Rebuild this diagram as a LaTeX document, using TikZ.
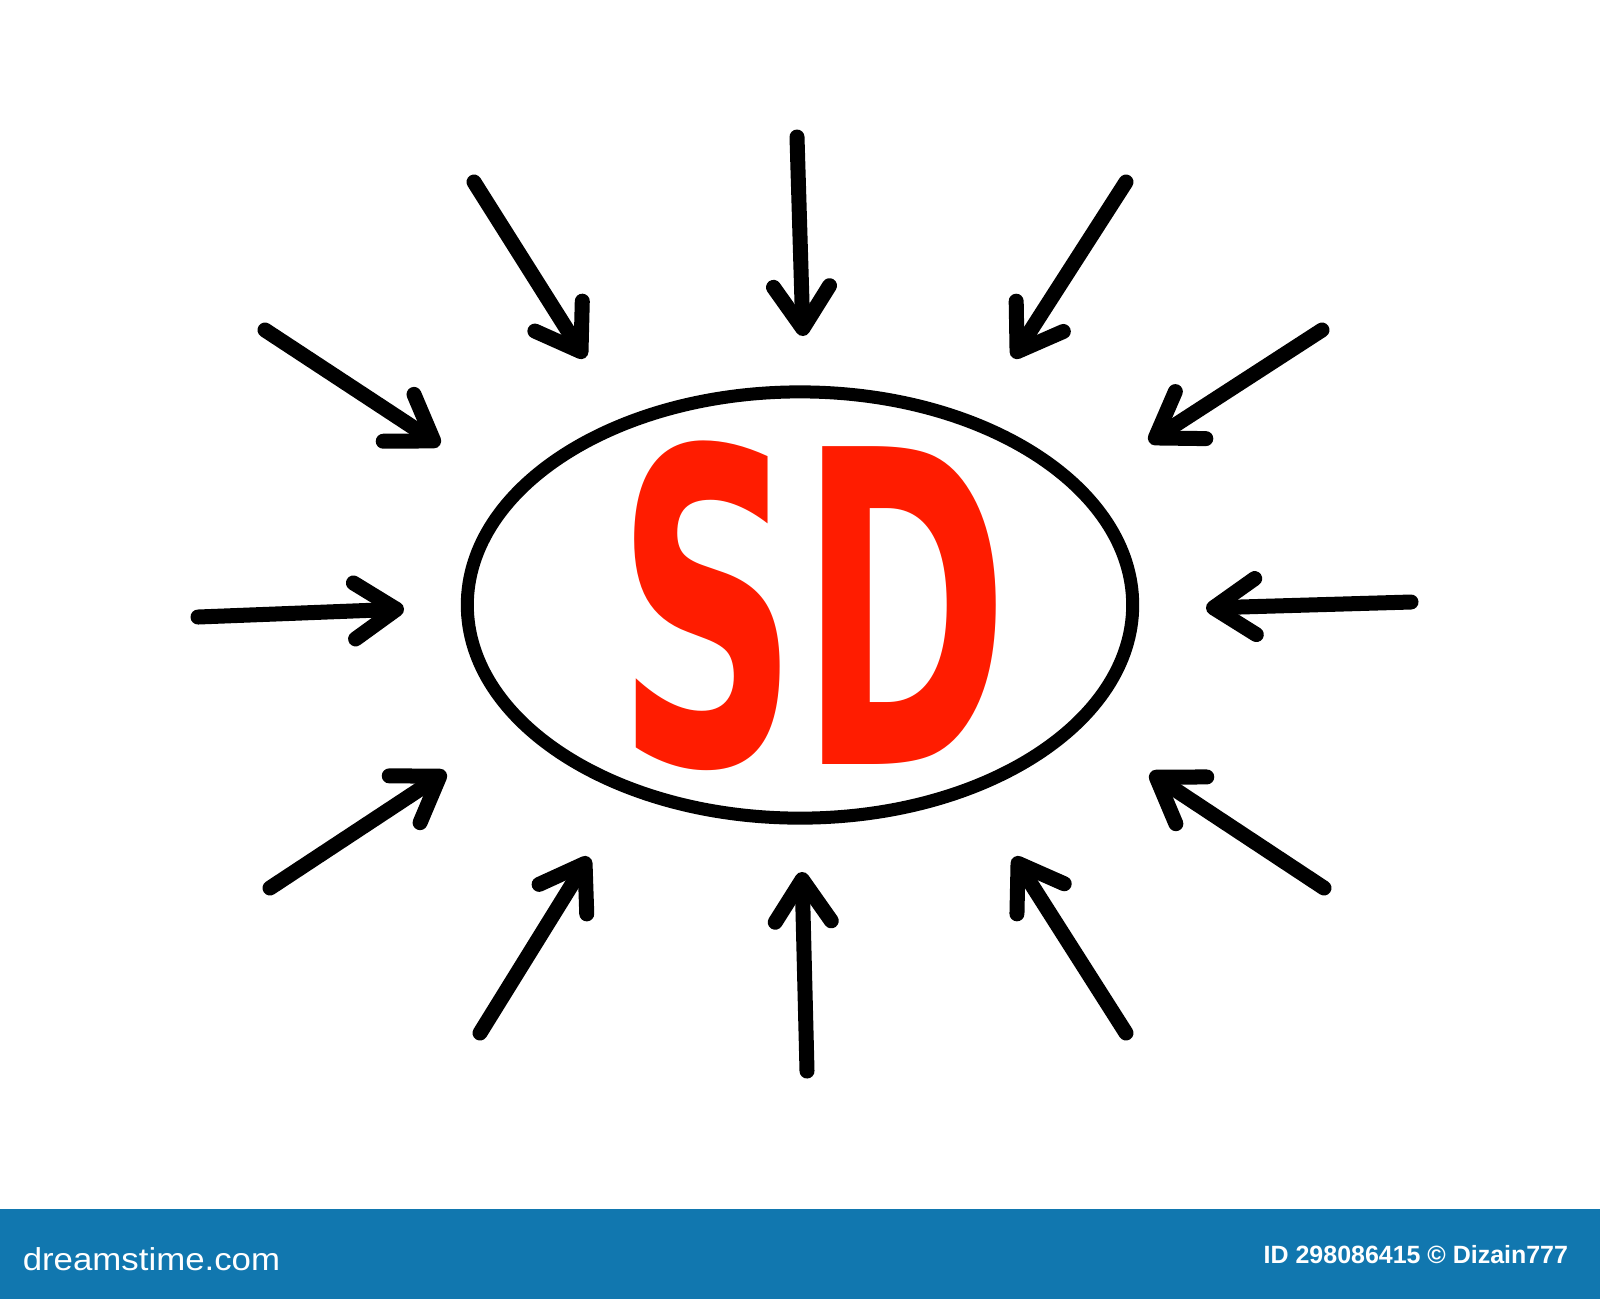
\documentclass[tikz,border=0pt]{standalone}
\usepackage{fontspec}
\setmainfont{Liberation Sans}
\newfontfamily\letterfont{DejaVu Sans}
\usetikzlibrary{arrows.meta,shapes.geometric}
\definecolor{sdred}{HTML}{FF1C00}
\definecolor{barblue}{HTML}{1177AF}
\begin{document}
\begin{tikzpicture}[x=0.01cm,y=-0.01cm,
  pointer/.style={line width=0.15cm,line cap=round,
    -{Straight Barb[length=0.42cm,width=0.56cm,round]}},
  oval node/.style={ellipse,draw,line width=0.13cm,inner sep=0pt,
    minimum width=6.65cm,minimum height=4.26cm},
  mark node/.style={text=sdred,font=\letterfont\bfseries\fontsize{124pt}{124pt}\selectfont,
    inner sep=0pt,xscale=0.58}]

  \useasboundingbox (0,0) rectangle (1600,1299);

  \node[oval node] (oval) at (800,605) {};
  \node[mark node] (sd) at (813,606) {SD};

  % arrow tails
  \coordinate (t1) at (797,137);
  \coordinate (t2) at (474,182);
  \coordinate (t3) at (265,330);
  \coordinate (t4) at (198,617);
  \coordinate (t5) at (270,888);
  \coordinate (t6) at (480,1033);
  \coordinate (t7) at (807,1071);
  \coordinate (t8) at (1126,1033);
  \coordinate (t9) at (1324,888);
  \coordinate (t10) at (1411,602);
  \coordinate (t11) at (1322,330);
  \coordinate (t12) at (1126,182);
  % arrow tips
  \coordinate (h1) at (803,336);
  \coordinate (h2) at (585,358);
  \coordinate (h3) at (440,445);
  \coordinate (h4) at (404,609);
  \coordinate (h5) at (446,772);
  \coordinate (h6) at (589,857);
  \coordinate (h7) at (802,872);
  \coordinate (h8) at (1014,857);
  \coordinate (h9) at (1150,773);
  \coordinate (h10) at (1206,608);
  \coordinate (h11) at (1149,442);
  \coordinate (h12) at (1013,358);

  \foreach \i in {1,...,12}
    \draw[pointer] (t\i) -- (h\i);

  % bottom bar
  \fill[barblue] (0,1209) rectangle (1600,1299);
  \node[text=white,anchor=base west,inner sep=0pt,xscale=1.1,
    font=\fontsize{9pt}{9pt}\selectfont] (site) at (22,1270) {dreamstime.com};
  \node[text=white,anchor=base west,inner sep=0pt,
    font=\bfseries\fontsize{7.1pt}{7.1pt}\selectfont] (credit) at (1263,1263) {ID 298086415 © Dizain777};
\end{tikzpicture}
\end{document}
